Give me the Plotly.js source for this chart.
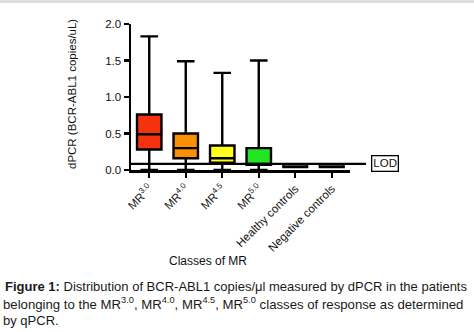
<!DOCTYPE html>
<html>
<head>
<meta charset="utf-8">
<script src="https://cdn.plot.ly/plotly-3.0.1.min.js"></script>
<style>
html,body{margin:0;padding:0;background:#fff;}
#wrap{position:relative;width:474px;height:332px;}
#chart{width:474px;height:332px;}
#topband{position:absolute;left:0;top:0;width:474px;height:3px;background:#dedede;}
</style>
</head>
<body>
<div id="wrap"><div id="chart"></div><div id="topband"></div></div>
<script>
// ---- data ----
const categories = ["MR3.0", "MR4.0", "MR4.5", "MR5.0", "Healthy controls", "Negative controls"];
const tickLabels = ["MR<sup>3.0</sup>", "MR<sup>4.0</sup>", "MR<sup>4.5</sup>", "MR<sup>5.0</sup>", "Healthy controls", "Negative controls"];
const lowerWhisker = [0.0, 0.0, 0.0, 0.0, 0.035, 0.035];
const q1Values     = [0.28, 0.16, 0.10, 0.07, 0.035, 0.035];
const medianValues = [0.49, 0.30, 0.16, 0.07, 0.035, 0.035];
const q3Values     = [0.76, 0.50, 0.335, 0.30, 0.078, 0.078];
const upperWhisker = [1.83, 1.49, 1.33, 1.50, 0.078, 0.078];
const boxColors = ["#f5320e", "#fb8f06", "#ffff1a", "#22e622", "#ffffff", "#ffffff"];
const lodValue = 0.083;
const yTicks = [0.0, 0.5, 1.0, 1.5, 2.0];

// ---- layout helpers (pixel -> paper) ----
const L = 131, R = 350, T = 24, B = 170, W = 474, H = 332;
const px = x => (x - L) / (R - L);
const py = y => (B - y) / (B - T);

const traces = categories.map((c, i) => ({
  type: "box",
  x: [c],
  q1: [q1Values[i]],
  median: [medianValues[i]],
  q3: [q3Values[i]],
  lowerfence: [lowerWhisker[i]],
  upperfence: [upperWhisker[i]],
  boxpoints: false,
  width: 0.67,
  whiskerwidth: 0.72,
  fillcolor: boxColors[i],
  line: { color: "#000", width: i < 4 ? 2.4 : 1.7 },
  hoverinfo: "skip",
  showlegend: false
}));

const font = "Liberation Sans, Arial, sans-serif";

const layout = {
  width: W, height: H,
  margin: { l: L, r: W - R, t: T, b: H - B, pad: 0 },
  paper_bgcolor: "#fff",
  plot_bgcolor: "#fff",
  showlegend: false,
  font: { family: font, color: "#111", size: 11.5 },
  xaxis: {
    type: "category",
    categoryorder: "array",
    categoryarray: categories,
    tickvals: categories,
    ticktext: tickLabels,
    range: [-0.5, 5.5],
    showline: true, linecolor: "#000", linewidth: 2.5,
    ticks: "outside", ticklen: 5, tickwidth: 2.2, tickcolor: "#000",
    tickangle: -45,
    tickfont: { family: font, size: 11.5, color: "#111" },
    showgrid: false, zeroline: false, fixedrange: true
  },
  yaxis: {
    range: [0, 2],
    tickvals: yTicks,
    tickformat: ".1f",
    showline: true, linecolor: "#000", linewidth: 2.5,
    ticks: "outside", ticklen: 5, tickwidth: 2.2, tickcolor: "#000",
    tickfont: { family: font, size: 11.5, color: "#111" },
    showgrid: false, zeroline: false, fixedrange: true
  },
  shapes: [
    { type: "line", xref: "paper", yref: "y", x0: 0, x1: px(366), y0: lodValue, y1: lodValue,
      line: { color: "#000", width: 2.2 } }
  ],
  annotations: [
    { text: "LOD", xref: "paper", yref: "y", x: px(384.5), y: lodValue, xanchor: "center", yanchor: "middle",
      showarrow: false, font: { family: font, size: 11.5, color: "#111" },
      bordercolor: "#000", borderwidth: 1.3, borderpad: 1, bgcolor: "#fff" },
    { text: "dPCR (BCR-ABL1 copies/uL)", xref: "paper", yref: "paper", x: px(72), y: py(94),
      xanchor: "center", yanchor: "middle", textangle: -90, showarrow: false,
      font: { family: font, size: 11.5, color: "#111" } },
    { text: "Classes of MR", xref: "paper", yref: "paper", x: px(208), y: py(261),
      xanchor: "center", yanchor: "middle", showarrow: false,
      font: { family: font, size: 12, color: "#111" } },
    { text: "<b>Figure 1:</b> Distribution of BCR-ABL1 copies/μl measured by dPCR in the patients",
      xref: "paper", yref: "paper", x: px(3), y: py(286.7), xanchor: "left", yanchor: "middle",
      showarrow: false, font: { family: font, size: 13, color: "#1a1a1a" } },
    { text: "belonging to the MR<sup>3.0</sup>, MR<sup>4.0</sup>, MR<sup>4.5</sup>, MR<sup>5.0</sup> classes of response as determined",
      xref: "paper", yref: "paper", x: px(1), y: py(303.7), xanchor: "left", yanchor: "middle",
      showarrow: false, font: { family: font, size: 13.2, color: "#1a1a1a" } },
    { text: "by qPCR.",
      xref: "paper", yref: "paper", x: px(1), y: py(320.7), xanchor: "left", yanchor: "middle",
      showarrow: false, font: { family: font, size: 13, color: "#1a1a1a" } }
  ]
};

Plotly.newPlot("chart", traces, layout, { displayModeBar: false, staticPlot: true });
</script>
</body>
</html>
